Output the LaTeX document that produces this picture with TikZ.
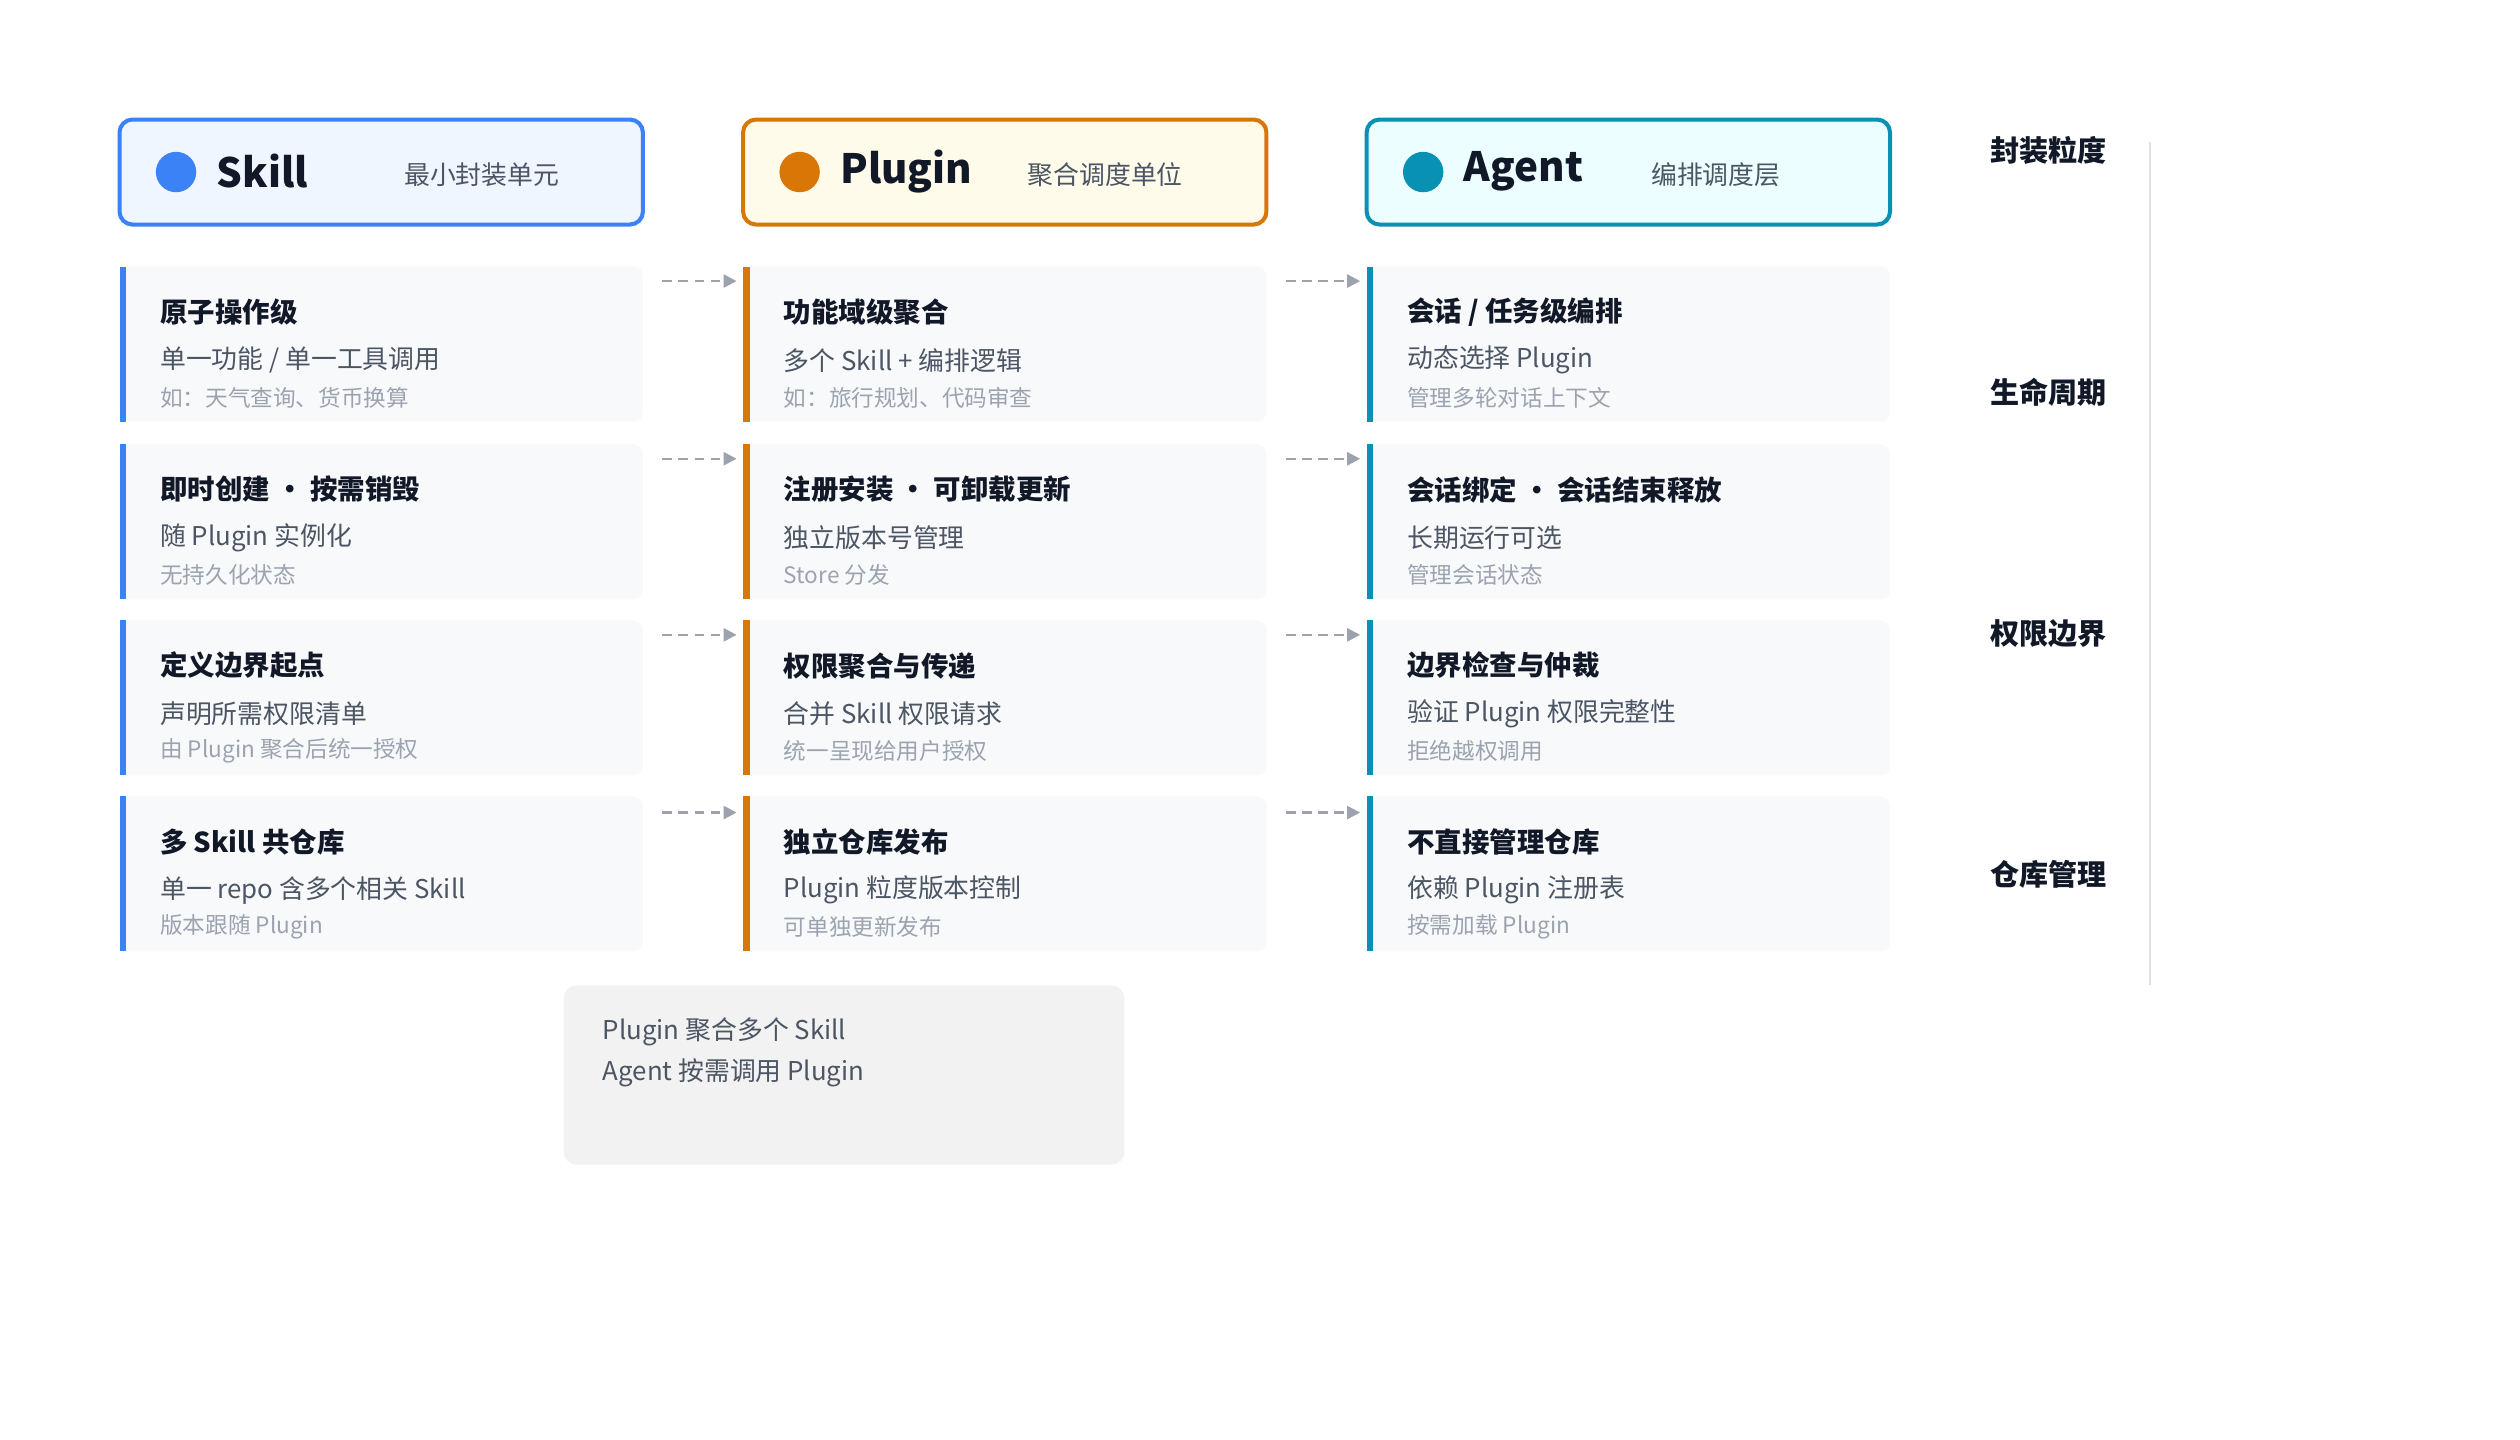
\documentclass[tikz,border=0pt]{standalone}
\usepackage{fontspec}
\setmainfont{Noto Sans CJK SC}
\usetikzlibrary{arrows.meta}
\definecolor{cs}{HTML}{3B82F6}\definecolor{cp}{HTML}{D97706}\definecolor{ca}{HTML}{0891B2}
\definecolor{fs}{HTML}{EFF6FF}\definecolor{fp}{HTML}{FEFBEA}\definecolor{fa}{HTML}{ECFEFF}
\definecolor{card}{HTML}{F8F9FB}\definecolor{tdark}{HTML}{111827}\definecolor{tmid}{HTML}{4B5563}\definecolor{tlight}{HTML}{9CA3AF}
\tikzset{
 hdr/.style={draw=#1,line width=2.5pt,rounded corners=8pt},
 cardbox/.style={fill=card,draw=none,rounded corners=6pt},
 ttl/.style={anchor=west,font=\fontsize{17}{20}\selectfont\bfseries,text=tdark,inner sep=0},
 l2/.style={anchor=west,font=\fontsize{16}{19}\selectfont,text=tmid,inner sep=0},
 l3/.style={anchor=west,font=\fontsize{14}{17}\selectfont,text=tlight,inner sep=0},
 arr/.style={draw=tlight,line width=1.5pt,dash pattern=on 6pt off 4pt,-{Triangle[length=8pt,width=8pt]}},
 side/.style={font=\fontsize{18}{21}\selectfont\bfseries,text=tdark,inner sep=0},
}
\begin{document}
\begin{tikzpicture}[x=1pt,y=-1pt]
\useasboundingbox[fill=white] (0,0) rectangle (1560,891);
% headers
\foreach \x/\c/\f/\n/\s/\id in {74/cs/fs/Skill/最小封装单元/h1,460/cp/fp/Plugin/聚合调度单位/h2,846/ca/fa/Agent/编排调度层/h3}{
 \draw[hdr=\c,fill=\f] (\x,74) rectangle ++(324,65);
 \fill[\c] (\x+35,106.5) circle (12.5);
 \node[anchor=west,inner sep=0,font=\fontsize{25}{28}\selectfont\bfseries,text=tdark] (\id) at (\x+60,106) {\n};
 \node[anchor=west,inner sep=0,font=\fontsize{16}{19}\selectfont,text=tmid] (\id s) at (\x+176,108) {\s};
}
% cards
\newcommand{\crd}[6]{%
 \fill[cardbox] (#1,#2) rectangle ++(324,96);
 \fill[#3] (#1,#2) rectangle ++(4,96);
 \node[ttl] at (#1+25,#2+28) {#4};
 \node[l2] at (#1+25,#2+58) {#5};
 \node[l3] at (#1+25,#2+81) {#6};}
\crd{74}{165}{cs}{原子操作级}{单一功能 / 单一工具调用}{如：天气查询、货币换算}
\crd{460}{165}{cp}{功能域级聚合}{多个 Skill + 编排逻辑}{如：旅行规划、代码审查}
\crd{846}{165}{ca}{会话 / 任务级编排}{动态选择 Plugin}{管理多轮对话上下文}
\crd{74}{275}{cs}{即时创建 · 按需销毁}{随 Plugin 实例化}{无持久化状态}
\crd{460}{275}{cp}{注册安装 · 可卸载更新}{独立版本号管理}{Store 分发}
\crd{846}{275}{ca}{会话绑定 · 会话结束释放}{长期运行可选}{管理会话状态}
\crd{74}{384}{cs}{定义边界起点}{声明所需权限清单}{由 Plugin 聚合后统一授权}
\crd{460}{384}{cp}{权限聚合与传递}{合并 Skill 权限请求}{统一呈现给用户授权}
\crd{846}{384}{ca}{边界检查与仲裁}{验证 Plugin 权限完整性}{拒绝越权调用}
\crd{74}{493}{cs}{多 Skill 共仓库}{单一 repo 含多个相关 Skill}{版本跟随 Plugin}
\crd{460}{493}{cp}{独立仓库发布}{Plugin 粒度版本控制}{可单独更新发布}
\crd{846}{493}{ca}{不直接管理仓库}{依赖 Plugin 注册表}{按需加载 Plugin}
% arrows
\foreach \y [count=\i] in {174,284,393,503}{
 \coordinate (a\i) at (410,\y); \coordinate (b\i) at (456,\y);
 \coordinate (c\i) at (796,\y); \coordinate (d\i) at (842,\y);
 \draw[arr] (a\i) -- (b\i); \draw[arr] (c\i) -- (d\i);
}
% side labels
\node[side] (s1) at (1268,93) {封装粒度};
\node[side] (s2) at (1268,243) {生命周期};
\node[side] (s3) at (1268,392) {权限边界};
\node[side] (s4) at (1268,541) {仓库管理};
\draw[draw=black!12,line width=0.8pt] (1331,88) -- (1331,610);
% note
\fill[fill=black!5,rounded corners=8pt] (349,610) rectangle (696,721);
\node[l2,font=\fontsize{16}{19}\selectfont] (n1) at (373,639) {Plugin 聚合多个 Skill};
\node[l2,font=\fontsize{16}{19}\selectfont] (n2) at (373,664) {Agent 按需调用 Plugin};
\end{tikzpicture}
\end{document}
